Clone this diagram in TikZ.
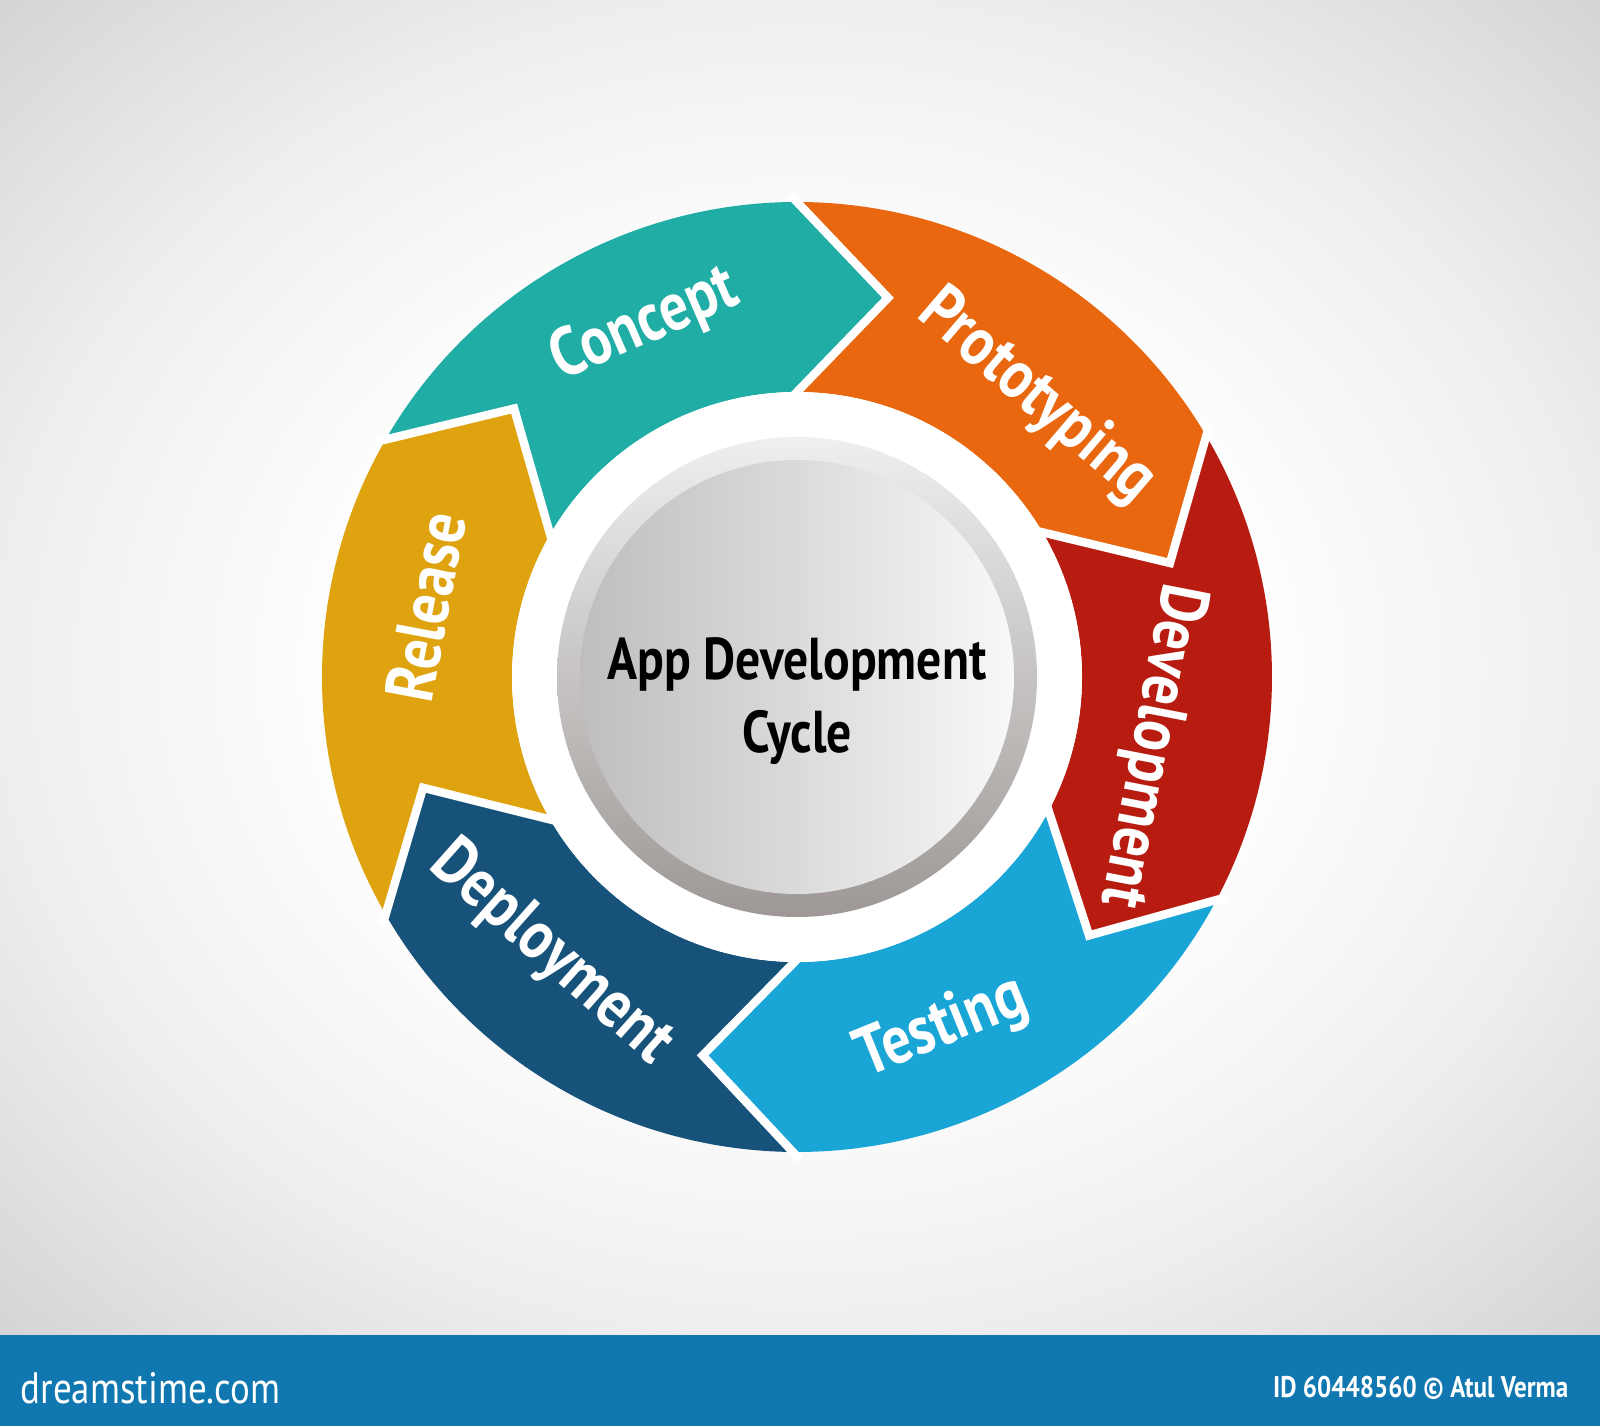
\documentclass[tikz,border=0pt]{standalone}
\usepackage{fontspec}
\setmainfont{PT Sans}
\newfontfamily\labfont[FakeStretch=0.84]{PT Sans}
\definecolor{cteal}{HTML}{1FADA5}
\definecolor{corange}{HTML}{E8670F}
\definecolor{cred}{HTML}{B81C11}
\definecolor{clblue}{HTML}{19A6D6}
\definecolor{cdblue}{HTML}{16527A}
\definecolor{cyellow}{HTML}{DEA30F}
\definecolor{barblue}{HTML}{1077B0}
\definecolor{bevtop}{HTML}{EFEFEF}
\definecolor{bevbot}{HTML}{9D9896}
\definecolor{diskl}{HTML}{BFBDBD}
\definecolor{diskr}{HTML}{F8F8F8}
\definecolor{bgA}{HTML}{EEEEEE}
\definecolor{bgB}{HTML}{D3D3D3}
\pgfdeclareradialshading{bgshade}{\pgfpoint{0bp}{0bp}}{color(0bp)=(white); color(14bp)=(white); color(25bp)=(bgA); color(36bp)=(bgB); color(50bp)=(bgB)}
\newcommand\ringseg[3]{%
  \fill[#3] (#1:4.75) arc[start angle=#1, end angle=#2, radius=4.75]
    -- ({#2-13.5}:3.9) -- (#2:2.85) arc[start angle=#2, end angle=#1, radius=2.85]
    -- ({#1-13.5}:3.9) -- cycle;}
\newcommand\ringsep[1]{%
  \draw[sepline] (#1:4.75) -- ({#1-13.5}:3.9) -- (#1:2.85);}
\begin{document}
\begin{tikzpicture}[x=1cm,y=1cm,
  sepline/.style={draw=white, line width=2.4pt, line join=miter, shorten <=-3pt, shorten >=-3pt},
  lab/.style={text=white, font=\labfont\bfseries\fontsize{19.5}{22}\selectfont, inner sep=0pt},
  ttl/.style={text=black, font=\labfont\bfseries\fontsize{16.8}{20}\selectfont, inner sep=0pt, anchor=base},
]
\useasboundingbox (-7.97,-7.49) rectangle (8.03,6.77);
\shade[shading=bgshade] (-7.97,-6.58) rectangle (8.03,6.77);
\fill[barblue] (-7.97,-7.49) rectangle (8.03,-6.58);
% ring segments
\ringseg{150}{90}{cteal}
\ringseg{90}{30.5}{corange}
\ringseg{30.5}{-28}{cred}
\ringseg{-28}{-90.5}{clblue}
\ringseg{-90.5}{-150}{cdblue}
\ringseg{210}{150}{cyellow}
\ringsep{90}
\ringsep{30.5}
\ringsep{-28}
\ringsep{-90.5}
\ringsep{-150}
\ringsep{150}
% centre
\fill[white] (0,0) circle (2.85);
\shade[top color=bevtop, bottom color=bevbot] (0,0) circle (2.40);
\shade[left color=diskl, right color=diskr] (0,0) circle (2.17);
\node[ttl] (title1) at (0,-0.02) {App Development};
\node[ttl] (title2) at (0,-0.75) {Cycle};
% labels
\node[lab, rotate=23.4] (concept) at (113.4:3.83) {Concept};
\node[lab, rotate=-40.5] (proto) at (49.5:3.68) {Prototyping};
\node[lab, rotate=-101] (devel) at (-11:3.6) {Development};
\node[lab, rotate=22] (testing) at (-67.5:3.8) {Testing};
\node[lab, rotate=-41.6] (deploy) at (-131.6:3.7) {Deployment};
\node[lab, rotate=79.3] (release) at (169.3:3.78) {Release};
% bottom bar
\node[anchor=west, text=white, font=\labfont\fontsize{12.5}{14}\selectfont, inner sep=0pt] (logo) at (-7.77,-7.11) {dreamstime.com};
\node[anchor=east, text=white, font=\labfont\bfseries\fontsize{8.5}{10}\selectfont, inner sep=0pt] (credit) at (7.72,-7.11) {ID 60448560 © Atul Verma};
\end{tikzpicture}
\end{document}
